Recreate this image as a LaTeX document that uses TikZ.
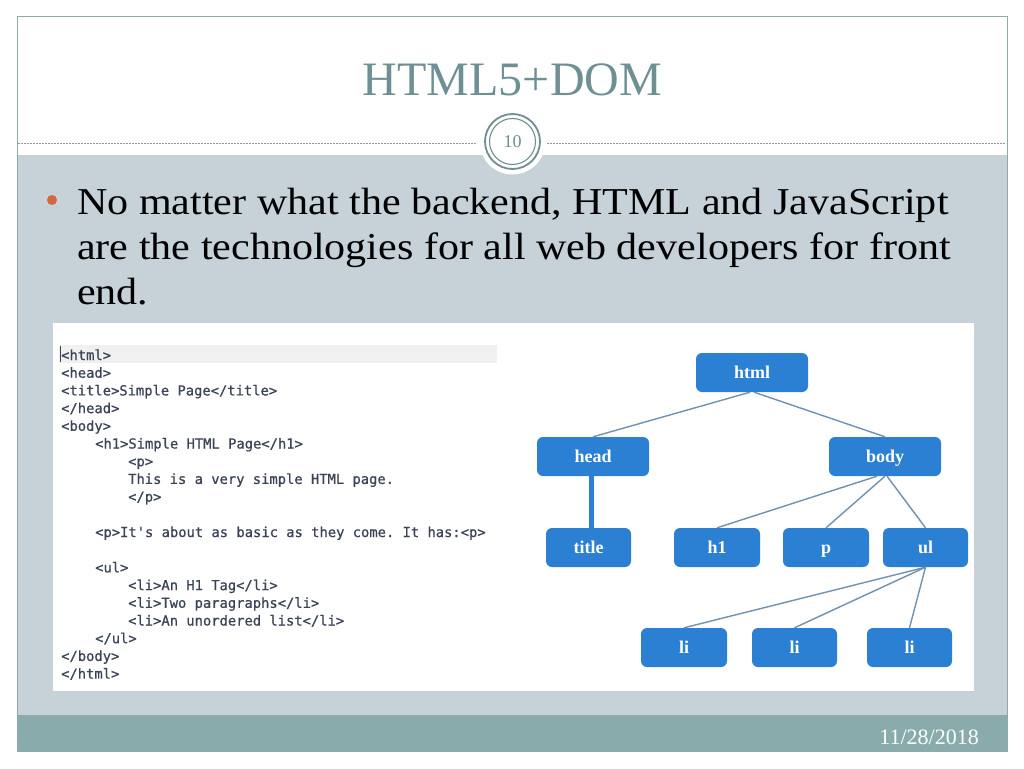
\documentclass[tikz,border=0pt]{standalone}
\usepackage{fontspec}
\setmainfont{Liberation Serif}
\setmonofont{DejaVu Sans Mono}[FakeBold=0.7]
\newfontfamily\bodyfont{Liberation Serif}[FakeStretch=1.107]
\definecolor{boxblue}{HTML}{2B80D3}
\definecolor{treeline}{HTML}{7191AE}
\definecolor{contentgray}{HTML}{C6D2D8}
\definecolor{footerteal}{HTML}{8AABAC}
\definecolor{framecol}{HTML}{8FAAAD}
\definecolor{titleteal}{HTML}{6E9095}
\definecolor{bulletorange}{HTML}{D5673F}
\definecolor{codecol}{HTML}{3A4357}
\definecolor{highlight}{HTML}{F0F0F0}
\definecolor{ringcol}{HTML}{6E8E90}
\definecolor{dotcol}{HTML}{8A9C9E}
\tikzset{
  treebox/.style={fill=boxblue, rounded corners=6pt, text=white, inner sep=0pt,
    text height=14pt, text depth=3pt,
    font=\bfseries\fontsize{18}{18}\selectfont},
  treeedge/.style={draw=treeline, line width=1.4pt},
  codeline/.style={anchor=base west, inner sep=0pt, text=codecol,
    font=\ttfamily\fontsize{13.8}{13.8}\selectfont},
  bodyline/.style={anchor=base west, inner sep=0pt, text=black,
    font=\bodyfont\fontsize{38}{38}\selectfont},
}
\begin{document}
\begin{tikzpicture}[x=1pt, y=-1pt]
\useasboundingbox (0,0) rectangle (1024,768);
% slide frame
\fill[white] (0,0) rectangle (1024,768);
\draw[framecol, line width=1pt, fill=white] (17,17) rectangle (1007,751);
\fill[contentgray] (17.5,155) rectangle (1006.5,715);
\fill[footerteal] (17.5,715) rectangle (1006.5,750.5);
% dotted separator
\draw[dotcol, line width=0.8pt, dash pattern=on 2pt off 1pt] (18,143) -- (477,143);
\draw[dotcol, line width=0.8pt, dash pattern=on 2pt off 1pt] (547,143) -- (1006,143);
% slide number circle
\fill[white] (512.5,141.5) circle (33);
\draw[ringcol, line width=1.8pt] (512.5,141.5) circle (27.5);
\draw[ringcol, line width=1.1pt] (512.5,141.5) circle (23);
\node[text=ringcol, font=\fontsize{18}{18}\selectfont, inner sep=0pt] (num) at (512.5,141.5) {10};
% title
\node[anchor=base, text=titleteal, font=\fontsize{48}{48}\selectfont, inner sep=0pt] (title) at (512.5,95) {HTML5+DOM};
% bullet text
\fill[bulletorange] (52,200) circle (5);
\node[bodyline] (b1) at (77,214) {No matter what the backend, HTML and JavaScript};
\node[bodyline] (b2) at (77,259) {are the technologies for all web developers for front};
\node[bodyline] (b3) at (77,304) {end.};
% picture panel
\fill[white] (53,323) rectangle (974,691);
\fill[highlight] (59,345) rectangle (497,363);
\draw[codecol, line width=0.8pt] (60.5,346) -- (60.5,362);
\node[codeline] (c0) at (61,360) {<html>};
\node[codeline] (c1) at (61,377.7) {<head>};
\node[codeline] (c2) at (61,395.4) {<title>Simple Page</title>};
\node[codeline] (c3) at (61,413.1) {</head>};
\node[codeline] (c4) at (61,430.8) {<body>};
\node[codeline] (c5) at (95,448.5) {<h1>Simple HTML Page</h1>};
\node[codeline] (c6) at (128,466.2) {<p>};
\node[codeline] (c7) at (128,483.9) {This is a very simple HTML page.};
\node[codeline] (c8) at (128,501.6) {</p>};
\node[codeline] (c10) at (95,537) {<p>It's about as basic as they come. It has:<p>};
\node[codeline] (c12) at (95,572.4) {<ul>};
\node[codeline] (c13) at (128,590.1) {<li>An H1 Tag</li>};
\node[codeline] (c14) at (128,607.8) {<li>Two paragraphs</li>};
\node[codeline] (c15) at (128,625.5) {<li>An unordered list</li>};
\node[codeline] (c16) at (95,643.2) {</ul>};
\node[codeline] (c17) at (61,660.9) {</body>};
\node[codeline] (c18) at (61,678.6) {</html>};
% DOM tree
\node[treebox, minimum width=112pt, minimum height=39pt] (html) at (752,372.5) {html};
\node[treebox, minimum width=112pt, minimum height=39pt] (head) at (593,456.5) {head};
\node[treebox, minimum width=112pt, minimum height=39pt] (body) at (885,456.5) {body};
\node[treebox, minimum width=85pt, minimum height=39pt] (ttl) at (588.5,547.5) {title};
\node[treebox, minimum width=86pt, minimum height=39pt] (h1) at (717,547.5) {h1};
\node[treebox, minimum width=86pt, minimum height=39pt] (p) at (826,547.5) {p};
\node[treebox, minimum width=85pt, minimum height=39pt] (ul) at (925.5,547.5) {ul};
\node[treebox, minimum width=86pt, minimum height=39pt] (li1) at (684,647.5) {li};
\node[treebox, minimum width=85pt, minimum height=39pt] (li2) at (794.5,647.5) {li};
\node[treebox, minimum width=85pt, minimum height=39pt] (li3) at (909.5,647.5) {li};
\draw[treeedge] (html.south) ++(-2,0) coordinate (hs1) -- (head.north);
\draw[treeedge] (html.south) ++(2,0) coordinate (hs2) -- (body.north);
\draw[boxblue, line width=5pt] (head.south -| ttl.north) ++(2.5,0) coordinate (hd) -- (ttl.north -| hd);
\draw[treeedge] (body.south) ++(-8,0) coordinate (bs1) -- (h1.north);
\draw[treeedge] (body.south) -- (p.north);
\draw[treeedge] (body.south) ++(2,0) coordinate (bs3) -- (ul.north);
\draw[treeedge] (ul.south) -- (li1.north);
\draw[treeedge] (ul.south) -- (li2.north);
\draw[treeedge] (ul.south) -- (li3.north);
% footer date
\node[anchor=base east, text=white, font=\fontsize{22}{22}\selectfont, inner sep=0pt] (date) at (979,744) {11/28/2018};
\end{tikzpicture}
\end{document}
